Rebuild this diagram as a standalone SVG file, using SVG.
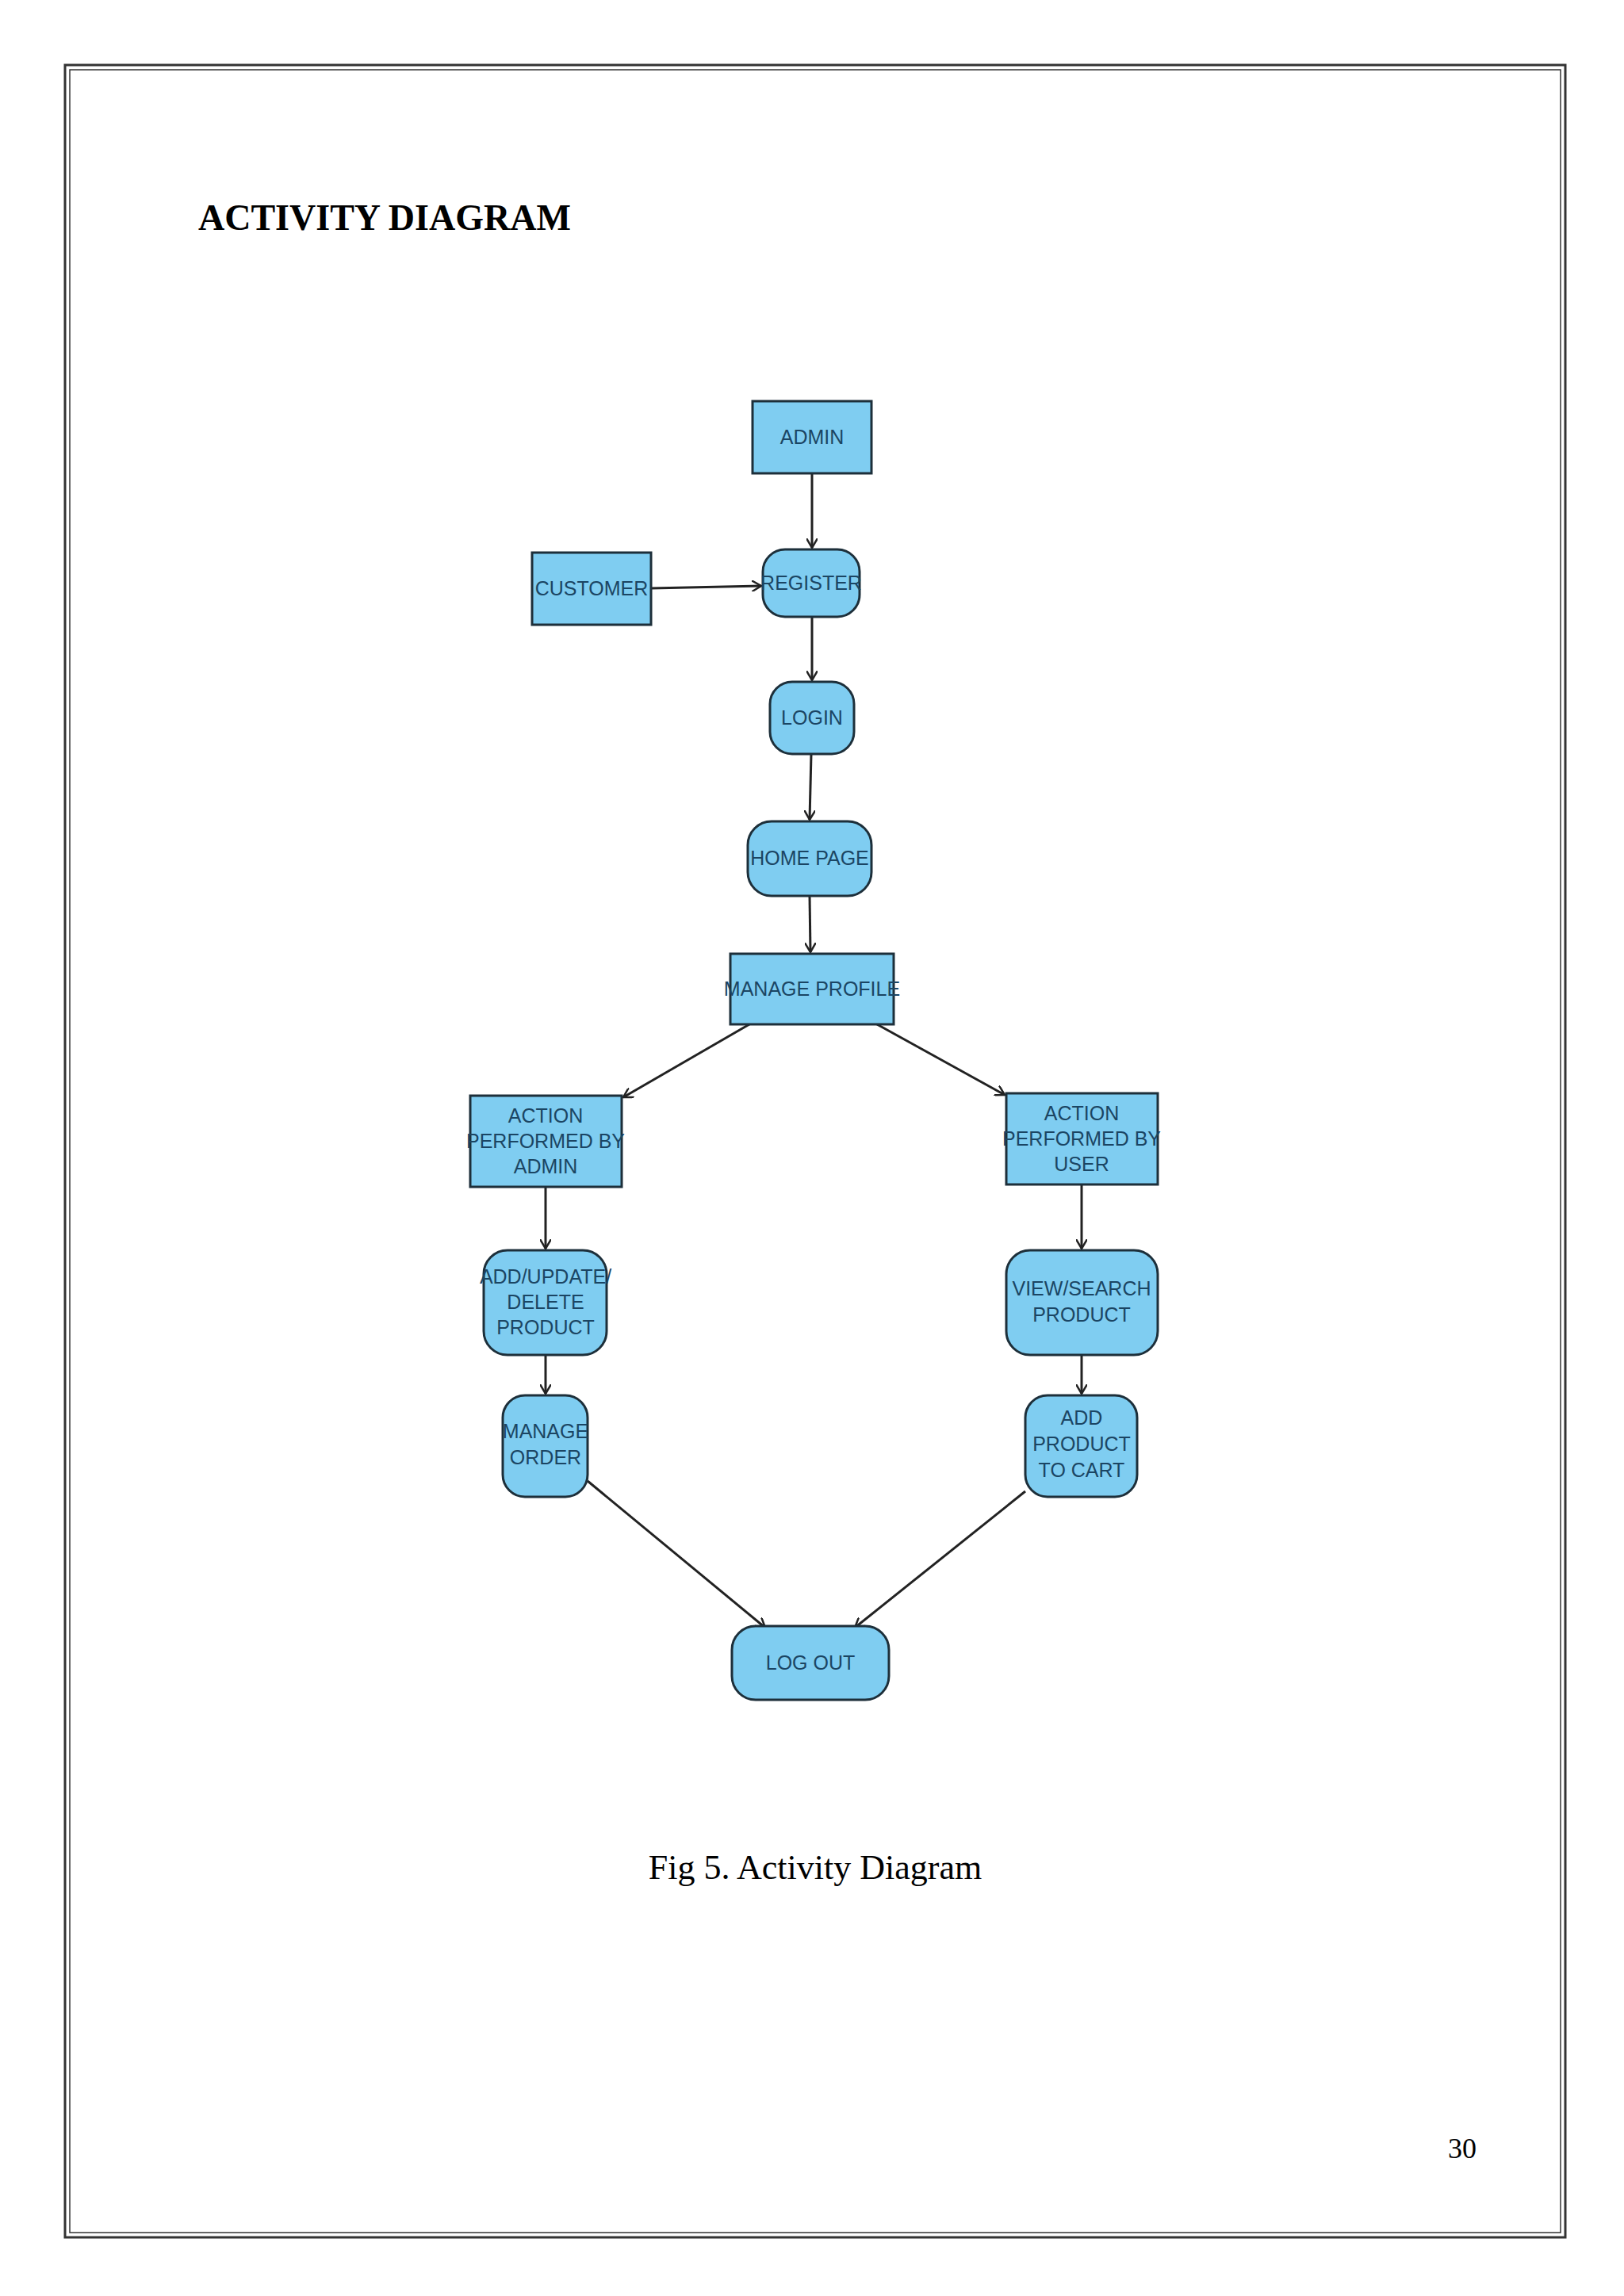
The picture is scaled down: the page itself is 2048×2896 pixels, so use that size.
<svg xmlns="http://www.w3.org/2000/svg" width="2048" height="2896" viewBox="0 0 2048 2896">
<defs>
<style>
.n{fill:#7fcdf1;stroke:#1d2f3a;stroke-width:3}
.t{font-family:"Liberation Sans",Arial,sans-serif;font-size:25px;fill:#1b4563;text-anchor:middle}
.e{stroke:#222;stroke-width:3;fill:none;marker-end:url(#a)}
</style>
<marker id="a" markerWidth="14" markerHeight="14" refX="12" refY="7" orient="auto" markerUnits="userSpaceOnUse" viewBox="0 0 14 14"><path d="M0,0 L12,7 L0,14" fill="none" stroke="#222" stroke-width="2.5"/></marker>
</defs>
<rect width="2048" height="2896" fill="#fff"/>
<rect x="82" y="82" width="1892" height="2740" fill="none" stroke="#333" stroke-width="3"/>
<rect x="88" y="88" width="1880" height="2728" fill="none" stroke="#333" stroke-width="1.5"/>
<text x="250" y="290" font-family="Liberation Serif,serif" font-weight="bold" font-size="46">ACTIVITY DIAGRAM</text>
<g id="connectors">
<path class="e" d="M1024,597 L1024,691"/>
<path class="e" d="M821,742 L960,739"/>
<path class="e" d="M1024,778 L1024,858"/>
<path class="e" d="M1023,951 L1021,1034"/>
<path class="e" d="M1021,1130 L1022,1201"/>
<path class="e" d="M945,1292 L786,1384"/>
<path class="e" d="M1106,1292 L1267,1381"/>
<path class="e" d="M688,1497 L688,1575"/>
<path class="e" d="M1364,1494 L1364,1575"/>
<path class="e" d="M688,1709 L688,1758"/>
<path class="e" d="M1364,1709 L1364,1758"/>
<path class="e" d="M741,1868 L965,2053"/>
<path class="e" d="M1293,1881 L1078,2053"/>
</g>
<g id="admin"><rect class="n" x="949" y="506" width="150" height="91"/><text class="t" x="1024" y="560">ADMIN</text></g>
<g id="customer"><rect class="n" x="671" y="697" width="150" height="91"/><text class="t" x="746" y="751">CUSTOMER</text></g>
<g id="register"><rect class="n" x="962" y="693" width="122" height="85" rx="28"/><text class="t" x="1023" y="744">REGISTER</text></g>
<g id="login"><rect class="n" x="971" y="860" width="106" height="91" rx="28"/><text class="t" x="1024" y="914">LOGIN</text></g>
<g id="homepage"><rect class="n" x="943" y="1036" width="156" height="94" rx="30"/><text class="t" x="1021" y="1091">HOME PAGE</text></g>
<g id="manageprofile"><rect class="n" x="921" y="1203" width="206" height="89"/><text class="t" x="1024" y="1256">MANAGE PROFILE</text></g>
<g id="actionadmin"><rect class="n" x="593" y="1382" width="191" height="115"/><text class="t" x="688" y="1416">ACTION<tspan x="688" dy="32">PERFORMED BY</tspan><tspan x="688" dy="32">ADMIN</tspan></text></g>
<g id="actionuser"><rect class="n" x="1269" y="1379" width="191" height="115"/><text class="t" x="1364" y="1413">ACTION<tspan x="1364" dy="32">PERFORMED BY</tspan><tspan x="1364" dy="32">USER</tspan></text></g>
<g id="addupdate"><rect class="n" x="610" y="1577" width="155" height="132" rx="30"/><text class="t" x="688" y="1619">ADD/UPDATE/<tspan x="688" dy="32">DELETE</tspan><tspan x="688" dy="32">PRODUCT</tspan></text></g>
<g id="viewsearch"><rect class="n" x="1269" y="1577" width="191" height="132" rx="30"/><text class="t" x="1364" y="1634">VIEW/SEARCH<tspan x="1364" dy="33">PRODUCT</tspan></text></g>
<g id="manageorder"><rect class="n" x="634" y="1760" width="107" height="128" rx="28"/><text class="t" x="688" y="1814">MANAGE<tspan x="688" dy="33">ORDER</tspan></text></g>
<g id="addcart"><rect class="n" x="1293" y="1760" width="141" height="128" rx="28"/><text class="t" x="1364" y="1797">ADD<tspan x="1364" dy="33">PRODUCT</tspan><tspan x="1364" dy="33">TO CART</tspan></text></g>
<g id="logout"><rect class="n" x="923" y="2051" width="198" height="93" rx="30"/><text class="t" x="1022" y="2106">LOG OUT</text></g>
<text x="1028" y="2370" font-family="Liberation Serif,serif" font-size="44" text-anchor="middle">Fig 5. Activity Diagram</text>
<text x="1844" y="2722" font-family="Liberation Serif,serif" font-size="36" text-anchor="middle">30</text>
</svg>
